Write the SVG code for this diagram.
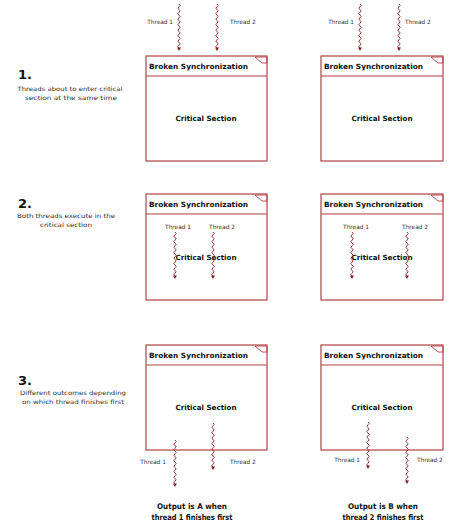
<svg xmlns="http://www.w3.org/2000/svg" xmlns:xlink="http://www.w3.org/1999/xlink" width="474" height="529" viewBox="0 0 474 529">
<style>
.box{fill:#fff;stroke:#b04444;stroke-width:1.2}
.sep{stroke:#b04444;stroke-width:1.2}
.fold{fill:none;stroke:#b04444;stroke-width:0.9}
text{font-family:"DejaVu Sans","Open Sans",sans-serif}
.hdr{font-weight:bold;font-size:7.2px;fill:#111}
.cs{font-weight:bold;font-size:7.2px;fill:#111;text-anchor:middle}
.lbl{font-size:5.8px;fill:#333}
.num{font-weight:bold;font-size:13px;fill:#111}
.desc{font-size:6px;fill:#333;text-anchor:middle}
.out{font-weight:bold;font-size:7.8px;fill:#111;text-anchor:middle}
.w{fill:none;stroke:#8b1c1c;stroke-width:0.9}
.ah{fill:#8b1c1c}
</style>
<defs>
<g id="wave">
<path class="w" d="M0,0 q2.2,1.375 0,2.75 t0,2.75 t0,2.75 t0,2.75 t0,2.75 t0,2.75 t0,2.75 t0,2.75 t0,2.75 t0,2.75 t0,2.75 t0,2.75 t0,2.75 t0,2.75 t0,2.75 t0,2.75"/>
<polygon class="ah" points="-2,43.5 2,43.5 0,47"/>
</g>
</defs>

<g id="step-labels">
<text class="num" x="18" y="79">1.</text>
<text class="desc" x="70" y="91" textLength="105" lengthAdjust="spacingAndGlyphs">Threads about to enter critical</text>
<text class="desc" x="71" y="100" textLength="92" lengthAdjust="spacingAndGlyphs">section at the same time</text>
<text class="num" x="18" y="208">2.</text>
<text class="desc" x="66" y="218" textLength="98" lengthAdjust="spacingAndGlyphs">Both threads execute in the</text>
<text class="desc" x="66" y="227" textLength="52" lengthAdjust="spacingAndGlyphs">critical section</text>
<text class="num" x="18" y="385">3.</text>
<text class="desc" x="73" y="395" textLength="106" lengthAdjust="spacingAndGlyphs">Different outcomes depending</text>
<text class="desc" x="73" y="404" textLength="102" lengthAdjust="spacingAndGlyphs">on which thread finishes first</text>
</g>

<g id="box-1a">
<rect class="box" x="146" y="56" width="121" height="105"/>
<line class="sep" x1="146" y1="76" x2="267" y2="76"/>
<polygon class="fold" points="255,57 267,57 267,63 262,63"/>
<text class="hdr" x="149" y="69" textLength="99" lengthAdjust="spacingAndGlyphs">Broken Synchronization</text>
<text class="cs" x="206" y="121" textLength="61" lengthAdjust="spacingAndGlyphs">Critical Section</text>
</g>
<g id="box-1b">
<rect class="box" x="321" y="56" width="122" height="105"/>
<line class="sep" x1="321" y1="76" x2="443" y2="76"/>
<polygon class="fold" points="431,57 443,57 443,63 438,63"/>
<text class="hdr" x="324" y="69" textLength="99" lengthAdjust="spacingAndGlyphs">Broken Synchronization</text>
<text class="cs" x="382" y="121" textLength="61" lengthAdjust="spacingAndGlyphs">Critical Section</text>
</g>
<g id="box-2a">
<rect class="box" x="146" y="194" width="121" height="106"/>
<line class="sep" x1="146" y1="214" x2="267" y2="214"/>
<polygon class="fold" points="255,195 267,195 267,201 262,201"/>
<text class="hdr" x="149" y="207" textLength="99" lengthAdjust="spacingAndGlyphs">Broken Synchronization</text>
<text class="cs" x="206" y="260" textLength="61" lengthAdjust="spacingAndGlyphs">Critical Section</text>
</g>
<g id="box-2b">
<rect class="box" x="321" y="194" width="122" height="106"/>
<line class="sep" x1="321" y1="214" x2="443" y2="214"/>
<polygon class="fold" points="431,195 443,195 443,201 438,201"/>
<text class="hdr" x="324" y="207" textLength="99" lengthAdjust="spacingAndGlyphs">Broken Synchronization</text>
<text class="cs" x="382" y="260" textLength="61" lengthAdjust="spacingAndGlyphs">Critical Section</text>
</g>
<g id="box-3a">
<rect class="box" x="146" y="345" width="121" height="105"/>
<line class="sep" x1="146" y1="365" x2="267" y2="365"/>
<polygon class="fold" points="255,346 267,346 267,352 262,352"/>
<text class="hdr" x="149" y="358" textLength="99" lengthAdjust="spacingAndGlyphs">Broken Synchronization</text>
<text class="cs" x="206" y="410" textLength="61" lengthAdjust="spacingAndGlyphs">Critical Section</text>
</g>
<g id="box-3b">
<rect class="box" x="321" y="345" width="122" height="105"/>
<line class="sep" x1="321" y1="365" x2="443" y2="365"/>
<polygon class="fold" points="431,346 443,346 443,352 438,352"/>
<text class="hdr" x="324" y="358" textLength="99" lengthAdjust="spacingAndGlyphs">Broken Synchronization</text>
<text class="cs" x="382" y="410" textLength="61" lengthAdjust="spacingAndGlyphs">Critical Section</text>
</g>

<g id="connectors">
<use xlink:href="#wave" x="179" y="4"/>
<use xlink:href="#wave" x="217" y="4"/>
<use xlink:href="#wave" x="360" y="4"/>
<use xlink:href="#wave" x="399" y="4"/>
<use xlink:href="#wave" x="175" y="232"/>
<use xlink:href="#wave" x="213" y="232"/>
<use xlink:href="#wave" x="352" y="232"/>
<use xlink:href="#wave" x="407" y="232"/>
<use xlink:href="#wave" x="175" y="440"/>
<use xlink:href="#wave" x="213" y="423"/>
<use xlink:href="#wave" x="368" y="422"/>
<use xlink:href="#wave" x="407" y="437"/>
</g>

<g id="thread-labels">
<text class="lbl" x="173" y="24" text-anchor="end">Thread 1</text>
<text class="lbl" x="230" y="24">Thread 2</text>
<text class="lbl" x="354" y="24" text-anchor="end">Thread 1</text>
<text class="lbl" x="405" y="24">Thread 2</text>
<text class="lbl" x="178" y="229" text-anchor="middle">Thread 1</text>
<text class="lbl" x="222" y="229" text-anchor="middle">Thread 2</text>
<text class="lbl" x="356" y="229" text-anchor="middle">Thread 1</text>
<text class="lbl" x="415" y="229" text-anchor="middle">Thread 2</text>
<text class="lbl" x="166" y="464" text-anchor="end">Thread 1</text>
<text class="lbl" x="230" y="464">Thread 2</text>
<text class="lbl" x="360" y="462" text-anchor="end">Thread 1</text>
<text class="lbl" x="417" y="462">Thread 2</text>
</g>

<g id="outputs">
<text class="out" x="192" y="509" textLength="70" lengthAdjust="spacingAndGlyphs">Output is A when</text>
<text class="out" x="192" y="520" textLength="81" lengthAdjust="spacingAndGlyphs">thread 1 finishes first</text>
<text class="out" x="383" y="509" textLength="70" lengthAdjust="spacingAndGlyphs">Output is B when</text>
<text class="out" x="383" y="520" textLength="81" lengthAdjust="spacingAndGlyphs">thread 2 finishes first</text>
</g>
</svg>
